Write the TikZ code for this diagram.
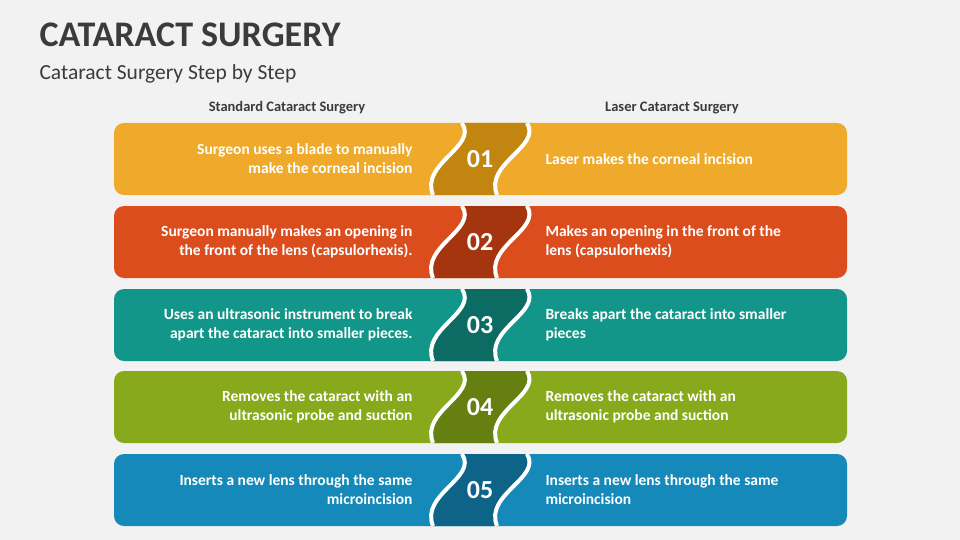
\documentclass[tikz,border=0pt]{standalone}
\usepackage{fontspec}
\setmainfont{Carlito}
\definecolor{bg}{HTML}{F2F2F2}
\definecolor{tt}{HTML}{3B3B3B}
\definecolor{cA}{HTML}{EFAA2B}\definecolor{dA}{HTML}{C2850F}
\definecolor{cB}{HTML}{DC4D1D}\definecolor{dB}{HTML}{A5350F}
\definecolor{cC}{HTML}{13968A}\definecolor{dC}{HTML}{0C6B63}
\definecolor{cD}{HTML}{87A91B}\definecolor{dD}{HTML}{657F10}
\definecolor{cE}{HTML}{1489BA}\definecolor{dE}{HTML}{0E6389}
\tikzset{
 lt/.style={text=white,font=\bfseries\fontsize{15.5}{19}\selectfont,align=right,anchor=east},
 rt/.style={text=white,font=\bfseries\fontsize{15.5}{19}\selectfont,align=left,anchor=west},
 num/.style={text=white,font=\bfseries\fontsize{26}{28}\selectfont},
 hdr/.style={text=tt,font=\bfseries\fontsize{14.5}{16}\selectfont}
}
\begin{document}
\begin{tikzpicture}[x=1pt,y=-1pt]
\fill[bg] (0,0) rectangle (960,540);
\useasboundingbox (0,0) rectangle (960,540);
\node[anchor=west,text=tt,font=\bfseries\fontsize{36}{38}\selectfont] (title) at (36,35) {CATARACT SURGERY};
\node[anchor=west,text=tt,font=\fontsize{21.5}{24}\selectfont] (sub) at (36,74) {Cataract Surgery Step by Step};
\node[hdr] (h1) at (287,108) {Standard Cataract Surgery};
\node[hdr] (h2) at (672,108) {Laser Cataract Surgery};
\foreach \y/\c/\d/\n/\l/\r in {
 123/cA/dA/01/{Surgeon uses a blade to manually\\make the corneal incision}/{Laser makes the corneal incision},
 206/cB/dB/02/{Surgeon manually makes an opening in\\the front of the lens (capsulorhexis).}/{Makes an opening in the front of the\\lens (capsulorhexis)},
 289/cC/dC/03/{Uses an ultrasonic instrument to break\\apart the cataract into smaller pieces.}/{Breaks apart the cataract into smaller\\pieces},
 371/cD/dD/04/{Removes the cataract with an\\ultrasonic probe and suction}/{Removes the cataract with an\\ultrasonic probe and suction},
 454/cE/dE/05/{Inserts a new lens through the same\\microincision}/{Inserts a new lens through the same\\microincision}}{
 \fill[\c,rounded corners=10pt] (114,\y) rectangle (847,\y+72);
 \fill[\d] (462,\y) .. controls (478,\y+24) and (420,\y+40) .. (433,\y+72) -- (497,\y+72) .. controls (484,\y+40) and (542,\y+24) .. (527,\y) -- cycle;
 \draw[white,line width=4pt] (462,\y) .. controls (478,\y+24) and (420,\y+40) .. (433,\y+72);
 \draw[white,line width=4pt] (527,\y) .. controls (542,\y+24) and (484,\y+40) .. (497,\y+72);
 \node[num] (n\n) at (480,\y+36) {\n};
 \node[lt] (l\n) at (416,\y+36) {\l};
 \node[rt] (r\n) at (542,\y+36) {\r};
}
\end{tikzpicture}
\end{document}
